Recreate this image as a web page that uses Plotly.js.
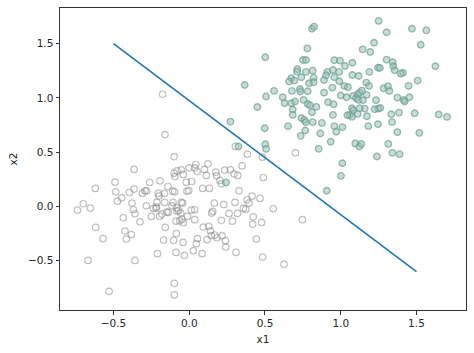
<!DOCTYPE html>
<html>
<head>
<meta charset="utf-8">
<script src="https://cdn.plot.ly/plotly-3.0.1.min.js"></script>
<style>
  html, body { margin: 0; padding: 0; background: #fff; }
  #plot { width: 474px; height: 353px; }
</style>
</head>
<body>
<div id="plot"></div>
<script>
// Class 0 samples (hollow markers)
const class0X = [
  -0.175, -0.160, -0.100, 0.305, 0.384, 0.483, 0.701, -0.364,
  -0.100, -0.081, -0.052, -0.039, -0.001, 0.036, 0.043, 0.051, 0.124, 0.100, 0.113,
  0.175, 0.181, 0.203, 0.212, 0.234, 0.272, 0.296, 0.320, 0.349, -0.094,
  -0.019, 0.016, -0.015, -0.003, 0.089, 0.133, 0.329, 0.415, 0.382, 0.395, 0.302,
  0.228, 0.373, 0.467, 0.489,
  -0.490, -0.620, -0.485, -0.474, -0.446, -0.395, -0.364, -0.261, -0.193, -0.309,
  -0.292, -0.281, -0.204, -0.199, -0.164, -0.140, -0.109, -0.096,
  -0.738, -0.699, -0.653, -0.378, -0.369, -0.358, -0.435, -0.325, -0.283, -0.250,
  -0.235, -0.219, -0.195, -0.180, -0.162, -0.149, -0.138, -0.114, -0.107, -0.083,
  -0.081, -0.070, -0.052, -0.043, -0.056, -0.087, -0.063, -0.048, -0.039, -0.012,
  0.014, 0.036, 0.036, 0.148, 0.155, 0.166, 0.212, 0.263, 0.285, 0.318, 0.357,
  0.423, 0.419, 0.478, -0.217, -0.213,
  -0.617, -0.569, -0.424, -0.415, -0.382, -0.158, -0.169, -0.103, -0.085, -0.041,
  0.054, 0.047, 0.093, 0.129, 0.140, 0.118, 0.146, 0.168, 0.184, 0.217, 0.239,
  0.241, 0.443, 0.027, 0.085, -0.087, -0.032, -0.210, 0.309, -0.668, -0.358, 0.485,
  -0.529, -0.098, -0.098, 0.555, 0.747, 0.626
];
const class0Y = [
  1.034, 0.663, 0.460, 0.553, 0.482, 0.454, 0.494, 0.341,
  0.307, 0.328, 0.338, 0.295, 0.356, 0.356, 0.387, 0.322, 0.393, 0.341, 0.286,
  0.316, 0.282, 0.240, 0.209, 0.335, 0.338, 0.301, 0.286, 0.374, 0.276,
  0.224, 0.230, 0.141, 0.147, 0.166, 0.166, 0.144, 0.095, 0.062, 0.031, 0.037,
  0.019, -0.027, 0.074, 0.267,
  0.224, 0.166, 0.135, 0.049, 0.080, 0.129, 0.160, 0.221, 0.236, 0.120,
  0.144, 0.144, 0.120, 0.098, 0.120, 0.184, 0.141, 0.135,
  -0.033, 0.025, -0.015, 0.031, -0.030, -0.067, -0.104, -0.141, 0.006, -0.092,
  -0.018, -0.018, -0.089, -0.070, 0.037, -0.052, -0.055, 0.006, 0.037, -0.012,
  -0.043, -0.036, 0.037, 0.031, -0.061, -0.135, -0.132, -0.119, -0.150, -0.092,
  -0.033, -0.030, -0.122, -0.061, -0.046, 0.031, -0.128, -0.064, -0.135, -0.064, -0.018,
  -0.095, -0.162, -0.147, -0.003, 0.037,
  -0.193, -0.297, -0.227, -0.300, -0.260, -0.193, -0.309, -0.312, -0.251, -0.331,
  -0.297, -0.343, -0.190, -0.184, -0.224, -0.306, -0.269, -0.263, -0.288, -0.269, -0.315,
  -0.374, -0.300, -0.408, -0.435, -0.423, -0.450, -0.435, -0.423, -0.497, -0.497, -0.466,
  -0.782, -0.708, -0.815, -0.021, -0.122, -0.533
];

// Class 1 samples (filled markers)
const class1X = [
  1.250, 0.810, 0.824, 1.303, 1.470, 1.565, 1.220, 1.528, 0.780, 1.145, 1.195,
  0.502, 0.751, 0.771, 0.958, 0.995, 1.077, 1.303, 1.343, 1.347, 1.625, 1.246,
  1.259, 1.356, 1.411, 1.396, 0.714, 0.711, 0.771, 0.815, 0.912, 0.949, 0.989,
  1.028, 1.189, 1.077, 1.118, 0.674, 0.659, 0.694, 0.740, 0.791, 0.821, 0.821,
  0.890, 0.903, 0.958, 0.991, 1.024, 1.048, 1.169, 1.187, 1.283, 1.312, 1.321,
  1.508, 1.448, 0.560, 0.678, 0.731, 0.733, 0.782, 0.890, 0.945, 1.000, 1.039,
  1.083, 1.101, 1.112, 1.125, 1.140, 1.171, 1.374, 1.416, 1.422, 1.453, 0.507,
  0.617, 0.630, 0.674, 0.698, 0.755, 0.782, 0.797, 0.839, 0.916, 0.953, 1.118,
  1.147, 1.233, 1.248, 1.224, 1.261, 1.158, 1.074, 1.083, 1.059, 1.074, 1.112,
  1.125, 0.683, 0.683, 0.740, 0.760, 0.810, 0.949, 1.044, 1.173, 1.334, 1.385,
  1.488, 1.647, 1.702, 0.498, 0.652, 0.769, 0.815, 0.876, 0.958, 0.971, 1.011,
  1.182, 1.246, 1.339, 0.736, 0.766, 0.865, 0.934, 1.374, 1.519, 0.502, 0.854,
  1.096, 1.123, 1.136, 1.314, 1.341, 1.389, 1.239, 1.011, 0.507, 1.002, 0.908,
  0.366, 0.450, 0.272, 0.325, 0.243
];
const class1Y = [
  1.709, 1.638, 1.657, 1.605, 1.638, 1.623, 1.509, 1.491, 1.457, 1.448, 1.424,
  1.375, 1.350, 1.350, 1.347, 1.344, 1.325, 1.353, 1.329, 1.292, 1.292, 1.279,
  1.276, 1.255, 1.233, 1.224, 1.264, 1.243, 1.240, 1.252, 1.240, 1.258, 1.240,
  1.295, 1.240, 1.212, 1.203, 1.181, 1.151, 1.160, 1.191, 1.135, 1.187, 1.145,
  1.166, 1.209, 1.191, 1.154, 1.111, 1.099, 1.141, 1.111, 1.089, 1.108, 1.065,
  1.160, 1.111, 1.065, 1.065, 1.083, 1.059, 1.062, 1.049, 1.095, 1.022, 1.007,
  1.019, 0.997, 1.034, 1.049, 1.068, 1.028, 1.003, 0.982, 0.967, 1.007, 1.013,
  1.007, 0.951, 0.951, 0.967, 0.982, 0.945, 0.933, 0.918, 0.961, 0.942, 0.982,
  0.979, 0.979, 0.902, 0.896, 0.908, 0.902, 0.905, 0.887, 0.844, 0.826, 0.853,
  0.905, 0.893, 0.844, 0.816, 0.798, 0.869, 0.844, 0.841, 0.832, 0.850, 0.865,
  0.859, 0.847, 0.826, 0.721, 0.740, 0.777, 0.777, 0.770, 0.740, 0.688, 0.731,
  0.740, 0.758, 0.777, 0.651, 0.700, 0.672, 0.596, 0.685, 0.678, 0.574, 0.531,
  0.580, 0.553, 0.577, 0.577, 0.494, 0.482, 0.461, 0.399, 0.531, 0.282, 0.145,
  1.119, 0.917, 0.782, 0.552, 0.221
];

// Decision boundary end points
const boundaryX = [-0.5, 1.5];
const boundaryY = [1.5, -0.6];

const tickVals = [-0.5, 0.0, 0.5, 1.0, 1.5];
const tickText = ['\u22120.5', '0.0', '0.5', '1.0', '1.5'];

const font = { family: 'DejaVu Sans, sans-serif', size: 10.5, color: '#262626' };

const traces = [
  {
    x: class0X, y: class0Y, type: 'scatter', mode: 'markers',
    marker: { symbol: 'circle', size: 6.5, color: 'rgba(255,255,255,0)',
              line: { color: 'rgba(130,130,130,0.5)', width: 1.2 } },
    hoverinfo: 'x+y'
  },
  {
    x: class1X, y: class1Y, type: 'scatter', mode: 'markers',
    marker: { symbol: 'circle', size: 6.5, color: 'rgba(150,190,180,0.5)',
              line: { color: 'rgba(105,155,142,0.65)', width: 1.4 } },
    hoverinfo: 'x+y'
  },
  {
    x: boundaryX, y: boundaryY, type: 'scatter', mode: 'lines',
    line: { color: '#1f77b4', width: 1.6 },
    hoverinfo: 'skip'
  }
];

const axisBase = {
  showgrid: false, zeroline: false,
  showline: true, mirror: true, linecolor: '#333333', linewidth: 1,
  ticks: 'outside', ticklen: 3.5, tickwidth: 1, tickcolor: '#333333',
  tickfont: font, tickvals: tickVals, ticktext: tickText
};

const layout = {
  width: 474, height: 353,
  margin: { l: 60, r: 8, t: 8, b: 43 },
  paper_bgcolor: '#ffffff', plot_bgcolor: '#ffffff',
  showlegend: false,
  font: font,
  xaxis: Object.assign({}, axisBase, {
    range: [-0.853, 1.827],
    title: { text: 'x1', font: font, standoff: 7 }
  }),
  yaxis: Object.assign({}, axisBase, {
    range: [-0.954, 1.829],
    title: { text: 'x2', font: font, standoff: 8 }
  })
};

Plotly.newPlot('plot', traces, layout, { staticPlot: true, displayModeBar: false });
</script>
</body>
</html>
